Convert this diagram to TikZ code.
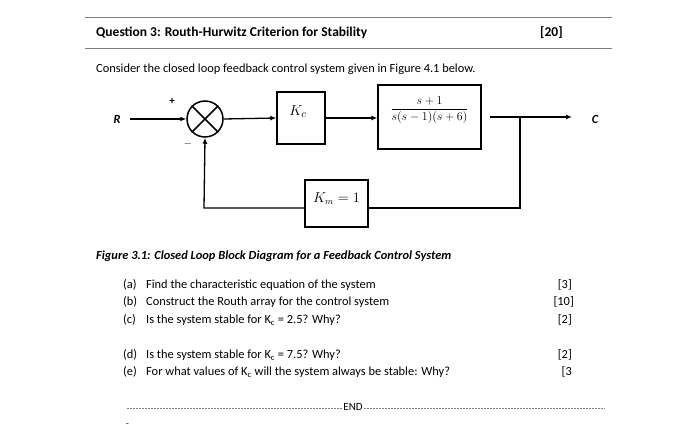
\documentclass[tikz,border=0pt]{standalone}
\usepackage{fontspec}
\setmainfont{Carlito}
\usetikzlibrary{arrows.meta}
\begin{document}
\begin{tikzpicture}[x=1pt,y=-1pt,
  txt/.style={anchor=west,inner sep=0pt,font=\fontsize{12.4}{14}\selectfont},
  mk/.style={anchor=east,inner sep=0pt,font=\fontsize{12.4}{14}\selectfont},
  mth/.style={font=\fontsize{15}{17}\selectfont},
  blk/.style={draw,line width=1.4pt,inner sep=0pt},
  wire/.style={line width=1.3pt},
  arr/.style={wire,-{Latex[length=6pt,width=5pt]}}]
\useasboundingbox (0,0) rectangle (700,435);
\fill[white] (0,0) rectangle (700,435);
\coordinate (r1a) at (85,17); \coordinate (r1b) at (612,17);
\draw[line width=0.5pt,gray] (r1a) -- (r1b);
\node[txt,font=\bfseries\fontsize{13.5}{15}\selectfont] (q) at (96,33) {Question 3: Routh-Hurwitz Criterion for Stability};
\node[txt,font=\bfseries\fontsize{13.5}{15}\selectfont] (pts) at (540,33) {[20]};
\coordinate (r2a) at (85,48); \coordinate (r2b) at (612,48);
\draw[line width=0.5pt,gray] (r2a) -- (r2b);
\node[txt] (cons) at (96,69) {Consider the closed loop feedback control system given in Figure 4.1 below.};
% diagram
\node[font=\bfseries\itshape\fontsize{12.4}{14}\selectfont] (R) at (117,119) {R};
\node[draw,circle,line width=1.5pt,minimum size=36pt,inner sep=0pt] (sum) at (205,119) {};
\draw[line width=1.5pt] (sum.north west) -- (sum.south east) (sum.north east) -- (sum.south west);
\node[font=\bfseries\fontsize{11}{12}\selectfont] (plus) at (172,101) {+};
\node[font=\bfseries\fontsize{11}{12}\selectfont] (minus) at (188,144) {$-$};
\node[blk,minimum width=48pt,minimum height=52pt] (kc) at (301,118) {};
\node[mth] (kct) at (298,112) {$K_c$};
\node[blk,minimum width=103pt,minimum height=64pt] (g) at (429.5,117) {};
\node[font=\fontsize{12.5}{14}\selectfont] (gt) at (429.5,110) {$\displaystyle\frac{s+1}{s(s-1)(s+6)}$};
\coordinate (gout) at (490,117);
\coordinate (br) at (520,117);
\coordinate (brd) at (520,208);
\coordinate (cend) at (572,117);
\node[font=\bfseries\itshape\fontsize{12.4}{14}\selectfont] (C) at (595,119) {C};
\node[blk,minimum width=63pt,minimum height=47pt] (km) at (336.5,203.5) {};
\node[font=\fontsize{13.5}{15}\selectfont] (kmt) at (336.5,199) {$K_m=1$};
\coordinate (fbl) at (204,208);
\draw[arr] (R.east) ++(6,0) -- (sum.west);
\draw[arr] (sum.east) -- (kc.west);
\draw[arr] (kc.east) -- (g.west |- kc.east);
\draw[arr] (gout) -- (cend);
\draw[wire] (br) -- (brd) -- (km.east |- brd);
\draw[arr] (km.west |- brd) -- (fbl) -- (sum.south);
\node[txt,font=\bfseries\itshape\fontsize{12.4}{14}\selectfont] (cap) at (96,256) {Figure 3.1: Closed Loop Block Diagram for a Feedback Control System};
% items
\node[txt] (la) at (123,285) {(a)}; \node[txt] (ta) at (146,285) {Find the characteristic equation of the system}; \node[mk] (ma) at (572,285) {[3]};
\node[txt] (lb) at (123,302) {(b)}; \node[txt] (tb) at (146,302) {Construct the Routh array for the control system}; \node[mk] (mb) at (574,302) {[10]};
\node[txt] (lc) at (123,320) {(c)}; \node[txt] (tc) at (146,320) {Is the system stable for K\textsubscript{c} = 2.5? Why?}; \node[mk] (mc) at (572,320) {[2]};
\node[txt] (ld) at (123,355) {(d)}; \node[txt] (td) at (146,355) {Is the system stable for K\textsubscript{c} = 7.5? Why?}; \node[mk] (md) at (572,355) {[2]};
\node[txt] (le) at (123,372) {(e)}; \node[txt] (te) at (146,372) {For what values of K\textsubscript{c} will the system always be stable: Why?}; \node[mk] (me) at (572,372) {[3};
\node[font=\fontsize{11}{13}\selectfont,inner sep=1pt,fill=white] (end) at (353,407) {END};
\coordinate (d1) at (127,408); \coordinate (d2) at (605,408);
\draw[line width=0.4pt,gray,dash pattern=on 2pt off 1pt] (d1) -- (end.west |- d1);
\draw[line width=0.4pt,gray,dash pattern=on 2pt off 1pt] (end.east |- d1) -- (d2);
\node[txt,font=\fontsize{9}{10}\selectfont] (dot) at (126,425) {-};
\end{tikzpicture}
\end{document}
